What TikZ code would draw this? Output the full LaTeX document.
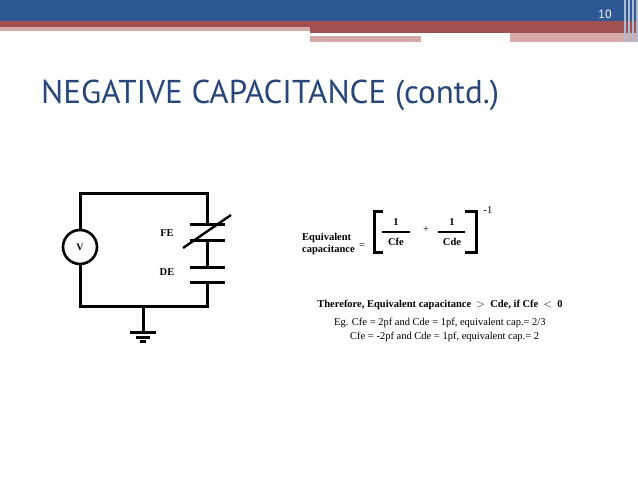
\documentclass[tikz,border=0pt]{standalone}
\usepackage{fontspec}
\setmainfont{Liberation Serif}
\newfontfamily\titlefont{PT Sans}
\definecolor{hblue}{RGB}{46,88,148}
\definecolor{hred}{RGB}{160,80,80}
\definecolor{hpink}{RGB}{215,170,170}
\definecolor{ttl}{RGB}{40,70,120}
\begin{document}
\begin{tikzpicture}[x=1pt,y=-1pt,
  wire/.style={line width=3pt},
  lab/.style={font=\bfseries\fontsize{10.5}{12}\selectfont,inner sep=0pt},
  txt/.style={font=\fontsize{10.5}{12}\selectfont,inner sep=0pt}]
\useasboundingbox (0,0) rectangle (638,478);
\fill[white] (0,0) rectangle (638,478);
% header
\fill[hblue] (0,0) rectangle (638,21);
\fill[hred] (0,21) rectangle (638,27);
\fill[hpink] (0,27) rectangle (310,31);
\fill[hred] (310,27) rectangle (638,33);
\fill[hpink] (510,33) rectangle (638,42);
\fill[hpink] (310,36) rectangle (421,42);
\foreach \x in {624,628,632,636} \fill[hblue!40] (\x,0) rectangle (\x+1.5,42);
\node[font=\titlefont\fontsize{12}{13}\selectfont,text=white] (pg) at (605,14) {10};
% title
\node[font=\titlefont\fontsize{33}{38}\selectfont,text=ttl,anchor=west,inner sep=0pt] (title) at (41,95) {NEGATIVE CAPACITANCE (contd.)};
% circuit
\coordinate (tr) at (207,194);
\coordinate (br) at (207,307);
\node[draw,circle,line width=2.6pt,minimum size=34pt,inner sep=0pt,font=\bfseries\fontsize{10}{11}\selectfont] (V) at (80,247) {V};
\draw[wire] (V.north) -- (80,194) -- (tr) -- (207,225);
\draw[wire] (V.south) -- (80,307) -- (br) -- (207,283);
\draw[wire] (190,225) -- (225,225);
\draw[wire] (190,241) -- (225,241);
\draw[wire] (207,241) -- (207,268);
\draw[wire] (190,268) -- (225,268);
\draw[wire] (190,283) -- (225,283);
\draw[line width=2.4pt] (183,248) -- (231,215);
\draw[wire] (143,307) -- (143,333);
\draw[wire] (130,333) -- (156,333);
\draw[wire] (136,338) -- (150,338);
\draw[wire] (140,342) -- (146,342);
\node[lab] (fe) at (167,233) {FE};
\node[lab] (de) at (167,272) {DE};
% equation
\node[lab,align=left,anchor=west] (eq) at (302,244) {Equivalent\\capacitance};
\node[txt] (eqs) at (362,246) {=};
\draw[line width=3pt] (383,212) -- (374,212) -- (374,253) -- (383,253);
\draw[line width=3pt] (465,212) -- (476,212) -- (476,253) -- (465,253);
\node[lab] (n1) at (396,222) {1};
\draw[line width=2pt] (382,232) -- (410,232);
\node[lab] (d1) at (396,242) {Cfe};
\node[txt] (pl) at (426,230) {+};
\node[lab] (n2) at (452,222) {1};
\draw[line width=2pt] (438,232) -- (465,232);
\node[lab] (d2) at (452,242) {Cde};
\node[txt] (ex) at (488,210) {-1};
\node[lab] (th) at (440,305) {Therefore, Equivalent capacitance \ $>$ \ Cde, if Cfe \ $<$ \ 0};
\node[txt,anchor=west] (e1) at (334,323) {Eg. Cfe = 2pf and Cde = 1pf, equivalent cap.= 2/3};
\node[txt,anchor=west] (e2) at (350,337) {Cfe = -2pf and Cde = 1pf, equivalent cap.= 2};
\end{tikzpicture}
\end{document}
